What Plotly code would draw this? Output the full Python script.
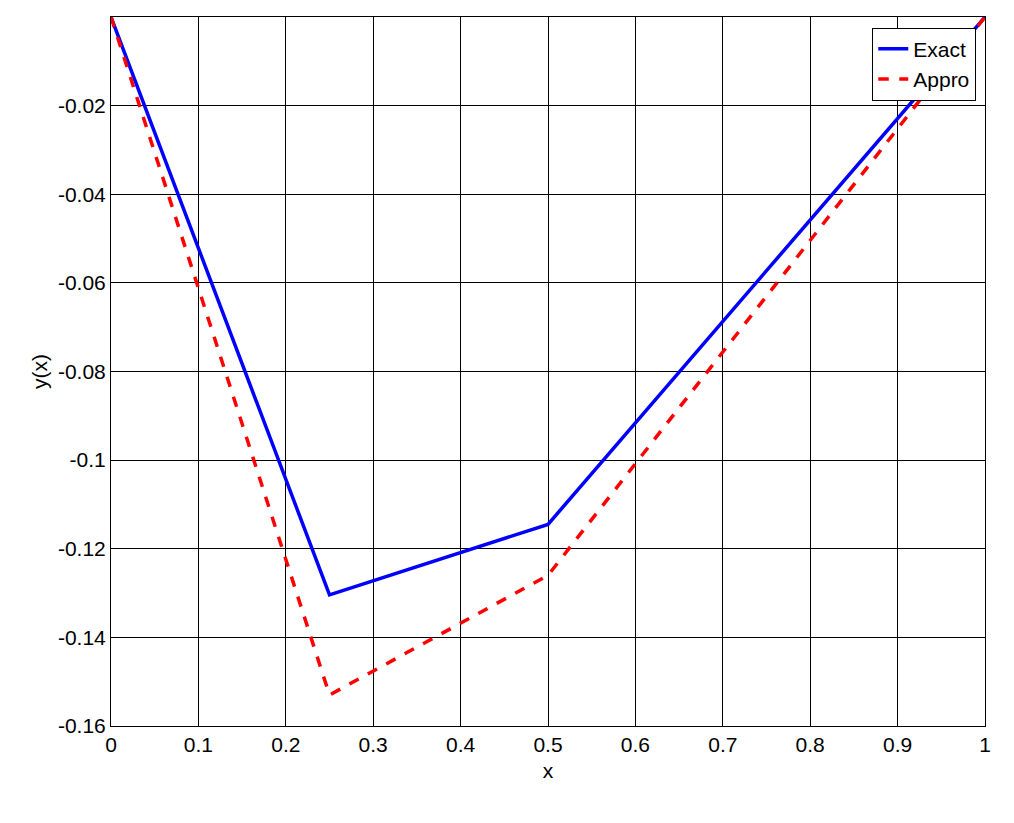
import plotly.graph_objects as go

x = [0, 0.25, 0.5, 1.0]
exact = [0, -0.1304, -0.1145, 0]
appro = [0, -0.1530, -0.1260, 0]
xticks = [0, 0.1, 0.2, 0.3, 0.4, 0.5, 0.6, 0.7, 0.8, 0.9, 1]
xlabels = ["0", "0.1", "0.2", "0.3", "0.4", "0.5", "0.6", "0.7", "0.8", "0.9", "1"]
yticks = [0, -0.02, -0.04, -0.06, -0.08, -0.1, -0.12, -0.14, -0.16]
ylabels = ["0", "-0.02", "-0.04", "-0.06", "-0.08", "-0.1", "-0.12", "-0.14", "-0.16"]

fig = go.Figure()
fig.add_trace(go.Scatter(x=x, y=exact, mode="lines", name="Exact",
                         line=dict(color="#0000ff", width=3.5)))
fig.add_trace(go.Scatter(x=x, y=appro, mode="lines", name="Appro",
                         line=dict(color="#ff0000", width=3.5, dash="dash")))
ax = dict(showline=True, linecolor="black", linewidth=1, mirror="ticks",
          ticks="inside", ticklen=5, tickcolor="black", showgrid=True,
          gridcolor="black", gridwidth=1, zeroline=False,
          tickfont=dict(family="Liberation Sans, Arial", size=21, color="black"))
fig.update_xaxes(range=[0, 1], tickvals=xticks, ticktext=xlabels,
                 title=dict(text="x", font=dict(size=21, color="black"), standoff=8), **ax)
fig.update_yaxes(range=[-0.16, 0], tickvals=yticks, ticktext=ylabels,
                 title=dict(text="y(x)", font=dict(size=21, color="black"), standoff=4), **ax)
fig.update_layout(width=1014, height=823, plot_bgcolor="white", paper_bgcolor="white",
                  margin=dict(l=103, r=37, t=9, b=105, autoexpand=False),
                  font=dict(family="Liberation Sans, Arial", color="black"),
                  legend=dict(x=0.99, y=0.985, xanchor="right", yanchor="top",
                              bgcolor="white", bordercolor="black", borderwidth=1,
                              font=dict(size=21)))
fig.write_html("out.html")
